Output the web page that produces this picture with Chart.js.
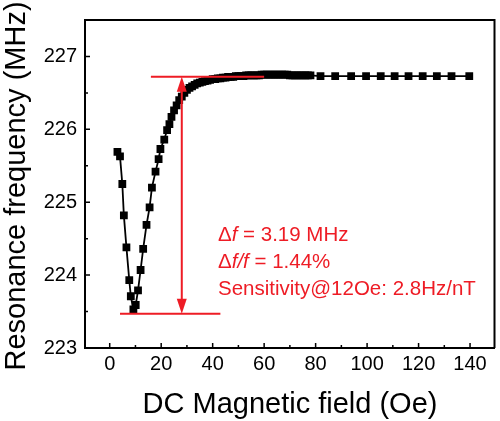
<!DOCTYPE html>
<html>
<head>
<meta charset="utf-8">
<script src="https://cdn.jsdelivr.net/npm/chart.js@4"></script>
<style>
html,body{margin:0;padding:0;background:#fff;}
#c{display:block;}
</style>
</head>
<body>
<canvas id="c" width="500" height="421"></canvas>
<script>
// ---- data ----
const fieldOe = [3, 4, 4.9, 5.5, 6.5, 7.6, 8.2, 9.2, 10.1, 11, 12, 13, 14.3, 15.5, 16.4, 17.8, 19, 19.7, 21.2, 22.3, 23.2,
  24, 25, 26, 27, 28, 29, 30, 31, 32, 33, 34, 35, 36, 37, 38, 39, 40, 41, 42, 43, 44, 45, 46, 47, 48, 49, 50,
  51, 52, 53, 54, 55, 56, 57, 58, 59, 60, 61, 62, 63, 64, 65, 66, 67, 68, 69, 70, 71, 72, 73, 74, 75, 76, 77, 78,
  81.9, 87.6, 93.8, 99.6, 105.3, 110.7, 116.1, 121.6, 127.1, 132.8, 139.7];
const freqMHz = [225.69, 225.63, 225.25, 224.82, 224.38, 223.93, 223.71, 223.53, 223.59, 223.79, 224.07, 224.36, 224.69, 224.93, 225.20, 225.42, 225.59, 225.73, 225.86, 225.99, 226.07,
  226.17, 226.26, 226.33, 226.40, 226.45, 226.50, 226.54, 226.57, 226.59, 226.61, 226.63, 226.64, 226.65, 226.66, 226.67, 226.68, 226.69, 226.69, 226.70, 226.70, 226.71, 226.71, 226.72, 226.72, 226.72, 226.73, 226.73,
  226.73, 226.73, 226.74, 226.74, 226.74, 226.74, 226.74, 226.74, 226.75, 226.75, 226.75, 226.75, 226.75, 226.75, 226.75, 226.75, 226.75, 226.75, 226.75, 226.74, 226.74, 226.74, 226.74, 226.74, 226.74, 226.74, 226.74, 226.74,
  226.73, 226.73, 226.73, 226.73, 226.73, 226.73, 226.73, 226.73, 226.73, 226.73, 226.73];
const xTickLabels = [0, 20, 40, 60, 80, 100, 120, 140];
const yTickLabels = [223, 224, 225, 226, 227];
const xTitle = 'DC Magnetic field (Oe)';
const yTitle = 'Resonance frequency (MHz)';
// annotation: max and min reference lines and the double arrow
const maxLineX = [16, 60];
const maxLineY = 226.72;
const minLineX = [4, 43];
const minLineY = 223.47;
const arrowX = 28;
const noteLines = [
  [['Δ', false], ['f', true], [' = 3.19 MHz', false]],
  [['Δ', false], ['f/f', true], [' = 1.44%', false]],
  [['Sensitivity@12Oe: 2.8Hz/nT', false]]
];

const FONT = '"Liberation Sans", Arial, sans-serif';
const RED = '#ee1c25';

const decor = {
  id: 'decor',
  afterDraw(chart) {
    const ctx = chart.ctx;
    const xs = chart.scales.x, ys = chart.scales.y;
    const a = chart.chartArea;
    ctx.save();
    // top & right frame
    ctx.strokeStyle = '#000';
    ctx.lineWidth = 2;
    ctx.beginPath();
    ctx.moveTo(a.left, a.top);
    ctx.lineTo(a.right, a.top);
    ctx.lineTo(a.right, a.bottom);
    ctx.stroke();
    // inward ticks
    ctx.lineWidth = 1.5;
    ctx.beginPath();
    for (let v = 0; v <= 140; v += 10) {
      const px = xs.getPixelForValue(v);
      const len = (v % 20 === 0) ? 5 : 3;
      ctx.moveTo(px, a.bottom);
      ctx.lineTo(px, a.bottom - len);
    }
    for (let v = 223; v <= 227.01; v += 0.5) {
      const py = ys.getPixelForValue(v);
      const len = (Math.abs(v - Math.round(v)) < 0.01) ? 5 : 3;
      ctx.moveTo(a.left, py);
      ctx.lineTo(a.left + len, py);
    }
    ctx.stroke();

    // red annotation
    ctx.strokeStyle = RED;
    ctx.fillStyle = RED;
    ctx.lineWidth = 2;
    const yTop = ys.getPixelForValue(maxLineY);
    const yBot = ys.getPixelForValue(minLineY);
    const ax = xs.getPixelForValue(arrowX);
    ctx.beginPath();
    ctx.moveTo(xs.getPixelForValue(maxLineX[0]), yTop);
    ctx.lineTo(xs.getPixelForValue(maxLineX[1]), yTop);
    ctx.moveTo(xs.getPixelForValue(minLineX[0]), yBot);
    ctx.lineTo(xs.getPixelForValue(minLineX[1]), yBot);
    ctx.moveTo(ax, yTop + 10);
    ctx.lineTo(ax, yBot - 10);
    ctx.stroke();
    const hl = 15, hw = 5;
    ctx.beginPath();
    ctx.moveTo(ax, yTop);
    ctx.lineTo(ax - hw, yTop + hl);
    ctx.lineTo(ax + hw, yTop + hl);
    ctx.closePath();
    ctx.fill();
    ctx.beginPath();
    ctx.moveTo(ax, yBot);
    ctx.lineTo(ax - hw, yBot - hl);
    ctx.lineTo(ax + hw, yBot - hl);
    ctx.closePath();
    ctx.fill();

    // note text
    ctx.textBaseline = 'alphabetic';
    ctx.textAlign = 'left';
    const tx = 218, ty0 = 241, dy = 27;
    noteLines.forEach((parts, i) => {
      let x = tx;
      parts.forEach(([s, it]) => {
        ctx.font = (it ? 'italic ' : '') + '20.5px ' + FONT;
        ctx.fillText(s, x, ty0 + i * dy);
        x += ctx.measureText(s).width;
      });
    });

    // axis titles
    ctx.fillStyle = '#000';
    ctx.font = '29px ' + FONT;
    ctx.textAlign = 'center';
    ctx.fillText(xTitle, 290, 413);
    ctx.save();
    ctx.translate(25, 186);
    ctx.rotate(-Math.PI / 2);
    ctx.fillText(yTitle, 0, 0);
    ctx.restore();
    ctx.restore();
  }
};

new Chart(document.getElementById('c'), {
  type: 'scatter',
  data: {
    datasets: [{
      data: fieldOe.map((x, i) => ({x: x, y: freqMHz[i]})),
      showLine: true,
      borderColor: '#000',
      borderWidth: 1.8,
      backgroundColor: '#000',
      pointStyle: 'rect',
      pointRadius: 5.5,
      pointBorderWidth: 0,
      pointHoverRadius: 5.5
    }]
  },
  options: {
    responsive: false,
    animation: false,
    devicePixelRatio: 1,
    layout: {padding: {top: 17, right: 3, left: 0, bottom: 0}},
    plugins: {legend: {display: false}, tooltip: {enabled: false}},
    scales: {
      x: {
        type: 'linear', min: -9.6, max: 149.5,
        grid: {display: false, drawTicks: false},
        border: {display: true, color: '#000', width: 2},
        ticks: {color: '#000', font: {family: FONT, size: 20}, padding: 4, maxRotation: 0},
        afterBuildTicks: s => { s.ticks = xTickLabels.map(v => ({value: v})); },
        afterFit: s => { s.height = 73; }
      },
      y: {
        type: 'linear', min: 223, max: 227.5,
        grid: {display: false, drawTicks: false},
        border: {display: true, color: '#000', width: 2},
        ticks: {color: '#000', font: {family: FONT, size: 20}, padding: 8},
        afterBuildTicks: s => { s.ticks = yTickLabels.map(v => ({value: v})); },
        afterFit: s => { s.width = 85; }
      }
    }
  },
  plugins: [decor]
});
</script>
</body>
</html>
